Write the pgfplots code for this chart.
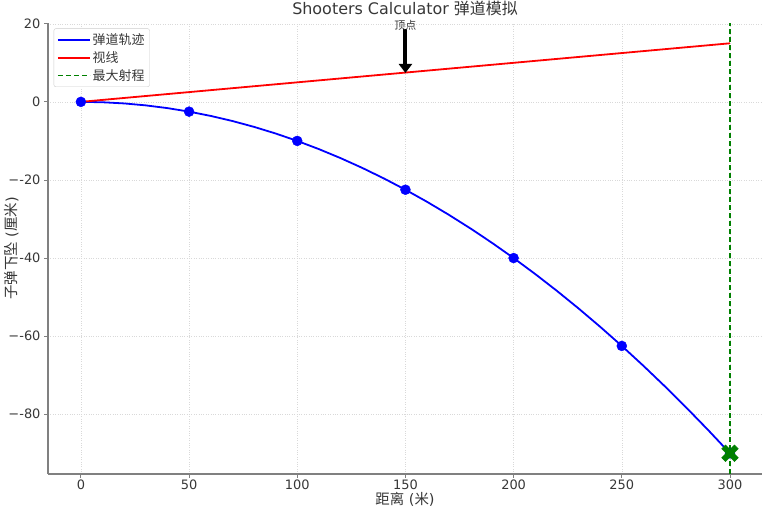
\documentclass[border=0pt]{standalone}
\usepackage{fontspec}
\setmainfont{DejaVu Sans}
\newfontfamily\cjk{Noto Sans CJK SC}
\usepackage{pgfplots}
\pgfplotsset{compat=1.18}
\usetikzlibrary{arrows.meta}

\definecolor{mplblue}{RGB}{0,0,255}
\definecolor{mplred}{RGB}{255,0,0}
\definecolor{mplgreen}{RGB}{0,128,0}
\definecolor{txt}{RGB}{55,55,55}

% filled X marker, like matplotlib's 'X'
\pgfdeclareplotmark{bigX}{%
	\pgftransformrotate{45}%
	\pgfpathmoveto{\pgfqpoint{0.3\pgfplotmarksize}{\pgfplotmarksize}}%
	\pgfpathlineto{\pgfqpoint{0.3\pgfplotmarksize}{0.3\pgfplotmarksize}}%
	\pgfpathlineto{\pgfqpoint{\pgfplotmarksize}{0.3\pgfplotmarksize}}%
	\pgfpathlineto{\pgfqpoint{\pgfplotmarksize}{-0.3\pgfplotmarksize}}%
	\pgfpathlineto{\pgfqpoint{0.3\pgfplotmarksize}{-0.3\pgfplotmarksize}}%
	\pgfpathlineto{\pgfqpoint{0.3\pgfplotmarksize}{-\pgfplotmarksize}}%
	\pgfpathlineto{\pgfqpoint{-0.3\pgfplotmarksize}{-\pgfplotmarksize}}%
	\pgfpathlineto{\pgfqpoint{-0.3\pgfplotmarksize}{-0.3\pgfplotmarksize}}%
	\pgfpathlineto{\pgfqpoint{-\pgfplotmarksize}{-0.3\pgfplotmarksize}}%
	\pgfpathlineto{\pgfqpoint{-\pgfplotmarksize}{0.3\pgfplotmarksize}}%
	\pgfpathlineto{\pgfqpoint{-0.3\pgfplotmarksize}{0.3\pgfplotmarksize}}%
	\pgfpathlineto{\pgfqpoint{-0.3\pgfplotmarksize}{\pgfplotmarksize}}%
	\pgfpathclose
	\pgfusepathqfillstroke
}

\begin{document}
\begin{tikzpicture}[x=1bp,y=1bp]
\useasboundingbox (0,0) rectangle (768,510);
\begin{axis}[
	at={(48bp,36bp)}, anchor=south west,
	scale only axis,
	width=714bp, height=451bp,
	xmin=-15.2, xmax=314.8,
	ymin=-95.3, ymax=20.2,
	axis lines=left,
	axis line style={-, draw=gray, line width=1.2bp},
	tick align=outside,
	major tick length=4bp,
	tick style={gray, line width=0.8bp},
	xtick={0,50,...,300},
	ytick={-80,-60,...,20},
	grid=major,
	grid style={dotted, gray!30, line width=0.5bp},
	ticklabel style={font=\fontsize{13}{15}\selectfont, text=txt},
	xticklabel style={yshift=2bp},
	/pgf/number format/assume math mode=true,
	yticklabel={\ifdim\tick pt<0pt −\pgfmathprintnumber[print sign=false]{\tick}\else\pgfmathprintnumber{\tick}\fi},
	title={Shooters Calculator {\cjk 弹道模拟}},
	title style={font=\fontsize{16}{18}\selectfont, text=txt, at={(axis description cs:0.5,1.02)}, anchor=center, inner sep=1bp},
	xlabel={{\cjk 距离} ({\cjk 米})},
	ylabel={{\cjk 子弹下坠} ({\cjk 厘米})},
	label style={font=\fontsize{14.5}{16}\selectfont, text=txt},
	xlabel style={at={(axis description cs:0.5,-0.056)}, anchor=center},
	ylabel style={at={(axis description cs:-0.051,0.5)}, anchor=center},
	legend style={font=\fontsize{13}{15}\selectfont, text=txt, draw=gray!40, rounded corners=2bp,
		at={(0.008,0.988)}, anchor=north west, row sep=1.5bp, inner xsep=3bp, inner ysep=3bp},
	legend cell align=left,
	legend image code/.code={\draw[#1, line width=1.8bp] plot coordinates {(0bp,0bp) (32bp,0bp)};},
	clip=false,
]
\addplot[mplblue, line width=1.8bp]
coordinates {
(0,0) (10,-0.1) (20,-0.4) (30,-0.9) (40,-1.6) (50,-2.5) (60,-3.6) (70,-4.9) (80,-6.4) (90,-8.1)
(100,-10) (110,-12.1) (120,-14.4) (130,-16.9) (140,-19.6) (150,-22.5) (160,-25.6) (170,-28.9)
(180,-32.4) (190,-36.1) (200,-40) (210,-44.1) (220,-48.4) (230,-52.9) (240,-57.6) (250,-62.5)
(260,-67.6) (270,-72.9) (280,-78.4) (290,-84.1) (300,-90)
};
\addlegendentry{{\cjk 弹道轨迹}}
\addplot[mplred, line width=1.8bp] coordinates {(0,0) (300,15)};
\addlegendentry{{\cjk 视线}}
\addplot[mplgreen, line width=1.3bp, dash pattern=on 5bp off 3bp] coordinates {(300,-95.3) (300,20.2)};
\addlegendentry{{\cjk 最大射程}}
\addplot[only marks, mplblue, mark=*, mark size=5bp, forget plot]
coordinates {(0,0) (50,-2.5) (100,-10) (150,-22.5) (200,-40) (250,-62.5) (300,-90)};
\addplot[only marks, mark=bigX, mark size=9bp, mark options={fill=mplgreen, draw=mplgreen, line width=0.5bp}, forget plot] coordinates {(300,-90)};
\draw[line width=4bp, -{Triangle[length=9bp, width=13bp]}] (axis cs:150,18.6) -- (axis cs:150,7.4);
\node[anchor=south, font=\fontsize{11}{12}\selectfont, text=txt, inner sep=0.2bp] at (axis cs:150,18.1) {\cjk 顶点};
\end{axis}
\end{tikzpicture}
\end{document}
